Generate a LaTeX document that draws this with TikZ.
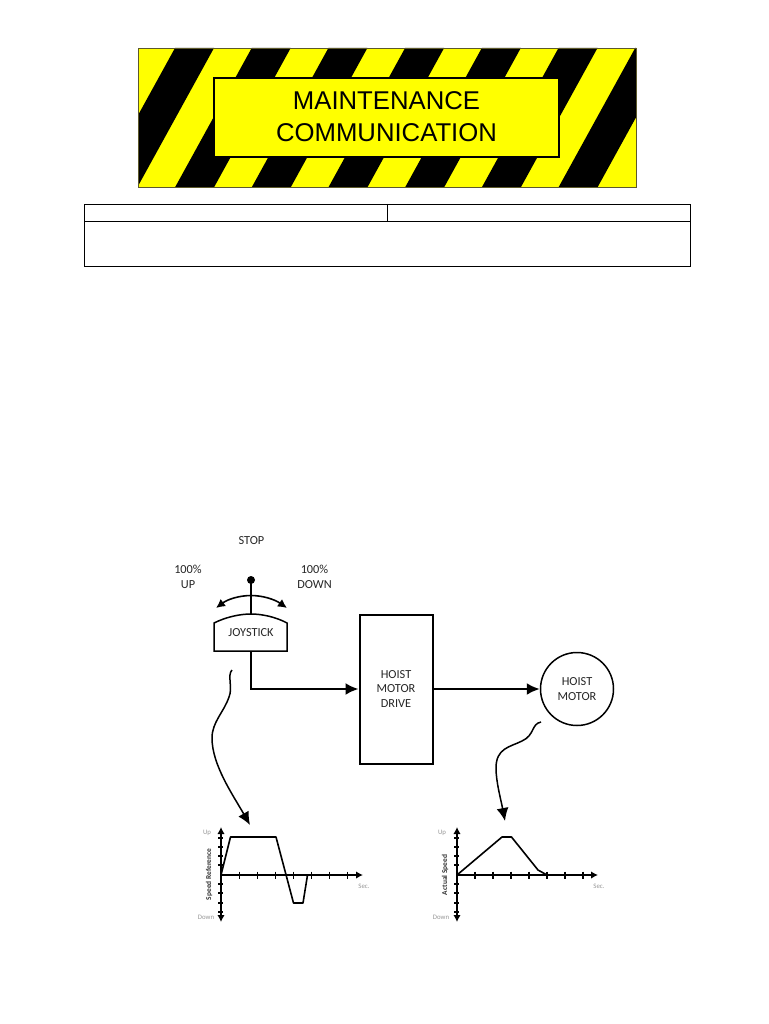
\documentclass[tikz,border=0pt]{standalone}
\usepackage{fontspec}
\setmainfont{Carlito}
\newfontfamily\arialfont{Liberation Sans}
\usetikzlibrary{arrows.meta}
\definecolor{hazard}{RGB}{255,255,0}
\definecolor{faint}{RGB}{150,150,150}
\tikzset{
  x=1pt,y=-1pt,
  flow/.style={line width=2.2pt,-{Latex[length=13pt,width=12pt]}},
  wavy/.style={line width=1.5pt,-{Latex[length=13pt,width=12pt]}},
  swing/.style={line width=1.6pt,{Latex[length=9pt,width=9pt]}-{Latex[length=9pt,width=9pt]}},
  blocktext/.style={font=\fontsize{12.3}{14.6}\selectfont,align=center,text=black!85,inner sep=0pt},
  banner/.style={font=\arialfont\fontsize{25.7}{32}\selectfont,align=center,inner sep=0pt},
  axis/.style={line width=1.6pt,{Latex[length=7pt,width=7.5pt]}-{Latex[length=7pt,width=7.5pt]}},
  haxis/.style={line width=2pt,-{Latex[length=7pt,width=7.5pt]}},
  curve/.style={line width=1.6pt,line join=round},
  tick/.style={line width=1.1pt},
  axlabel/.style={font=\fontsize{6.8}{8}\selectfont,text=faint,inner sep=0pt},
  axtitle/.style={font=\bfseries\fontsize{7.4}{8}\selectfont,text=black!80,inner sep=0pt,rotate=90},
}
\begin{document}
\begin{tikzpicture}
\useasboundingbox (0,0) rectangle (768,1024);
\fill[white] (0,0) rectangle (768,1024);
% hazard banner
\begin{scope}
\clip (138,48) rectangle (636,187);
\fill[hazard] (138,48) rectangle (636,187);
\foreach \k in {-3,...,6}{
  \pgfmathsetmacro{\xa}{175+76.7*\k}
  \pgfmathsetmacro{\xb}{\xa+39}
  \fill[black] (\xa,48) -- (\xb,48) -- (\xb-76.5,187) -- (\xa-76.5,187) -- cycle;
}
\end{scope}
\draw[line width=0.7pt,black!45!olive] (138,48) rectangle (636,187);
\node[draw=black,line width=2pt,fill=hazard,minimum width=345pt,minimum height=79pt,inner sep=0pt] (title) at (386.5,117.5) {};
\node[banner] (titletext) at (386.5,117) {MAINTENANCE\\[0pt]COMMUNICATION};
% empty form table
\draw[line width=0.9pt] (84,204) rectangle (690,266);
\draw[line width=0.9pt] (84,221) -- (690,221);
\draw[line width=0.9pt] (387,204) -- (387,221);
% joystick
\node[blocktext] (stop) at (251.5,540.5) {STOP};
\node[blocktext] (up) at (188,577) {100\%\\UP};
\node[blocktext] (down) at (314.5,577) {100\%\\DOWN};
\fill (251,580) circle (4);
\coordinate (knob) at (251,580);
\draw[line width=1.5pt] (214,623) .. controls (226,617) and (240,614) .. (251,614) .. controls (262,614) and (276,617) .. (287,623) -- (287,651) -- (214,651) -- cycle;
\coordinate (joytop) at (251,614);
\draw[line width=1.6pt] (knob) -- (joytop);
\draw[swing] (216,608) .. controls (228,599) and (240,595.5) .. (251,595.5) .. controls (262,595.5) and (274,599) .. (287,608);
\node[blocktext,minimum width=73pt,minimum height=37pt] (joy) at (251,633) {JOYSTICK};
% blocks
\node[draw,line width=2pt,minimum width=73pt,minimum height=149pt,blocktext] (drive) at (396,689) {HOIST\\MOTOR\\DRIVE};
\node[draw,circle,line width=1.5pt,minimum size=73pt,blocktext] (motor) at (577,689) {HOIST\\MOTOR};
\draw[flow] (joy.south) |- (drive.west);
\draw[flow] (drive.east) -- (motor.west);
% charts
\coordinate (la) at (232,670);
\coordinate (lb) at (250,825);
\coordinate (ra) at (541,722);
\coordinate (rb) at (505,821);
\draw[wavy] (la) .. controls (227,675) and (233,688) .. (229,697) .. controls (224,712) and (212,722) .. (212,738) .. controls (212,765) and (233,795) .. (lb);
\draw[wavy] (ra) .. controls (531,724) and (535,735) .. (522,741) .. controls (510,747) and (496,748) .. (496,768) .. controls (496,782) and (501,800) .. (rb);
% left chart
\foreach \x in {239.5,257.5,275.5,293.5,311.5,329.5,347.5} \draw[tick] (\x,871.5) -- (\x,878.5);
\foreach \y in {838,847,856,865,884,893,903,912} \draw[tick] (218,\y) -- (223,\y);
\coordinate (lt) at (221,827); \coordinate (lbm) at (221,922); \coordinate (lo) at (220,875); \coordinate (lr) at (363,875);
\draw[axis] (lt) -- (lbm);
\draw[haxis] (lo) -- (lr);
\draw[curve] (221,875) -- (230.5,837) -- (276,837) -- (293.5,903) -- (303,903) -- (307.5,875);
\node[axlabel] (lup) at (207,833) {Up};
\node[axlabel] (ldn) at (206,917) {Down};
\node[axlabel] (lsec) at (364,886.5) {Sec.};
\node[axtitle] (ltitle) at (209,874.5) {Speed Reference};
% right chart
\foreach \x in {475,493,511,529,547,565,583} \draw[tick] (\x,871.5) -- (\x,878.5);
\foreach \y in {838,847,856,865,884,893,903,912} \draw[tick] (454,\y) -- (459,\y);
\coordinate (rt) at (457,827); \coordinate (rbm) at (457,922); \coordinate (ro) at (456,875); \coordinate (rr) at (598,875);
\draw[axis] (rt) -- (rbm);
\draw[haxis] (ro) -- (rr);
\draw[curve] (457,875) -- (502,837) -- (511.5,837) -- (538,870) -- (547,875);
\node[axlabel] (rup) at (442,833) {Up};
\node[axlabel] (rdn) at (441,917) {Down};
\node[axlabel] (rsec) at (599,886.5) {Sec.};
\node[axtitle] (rtitle) at (445,875) {Actual Speed};
\end{tikzpicture}
\end{document}
